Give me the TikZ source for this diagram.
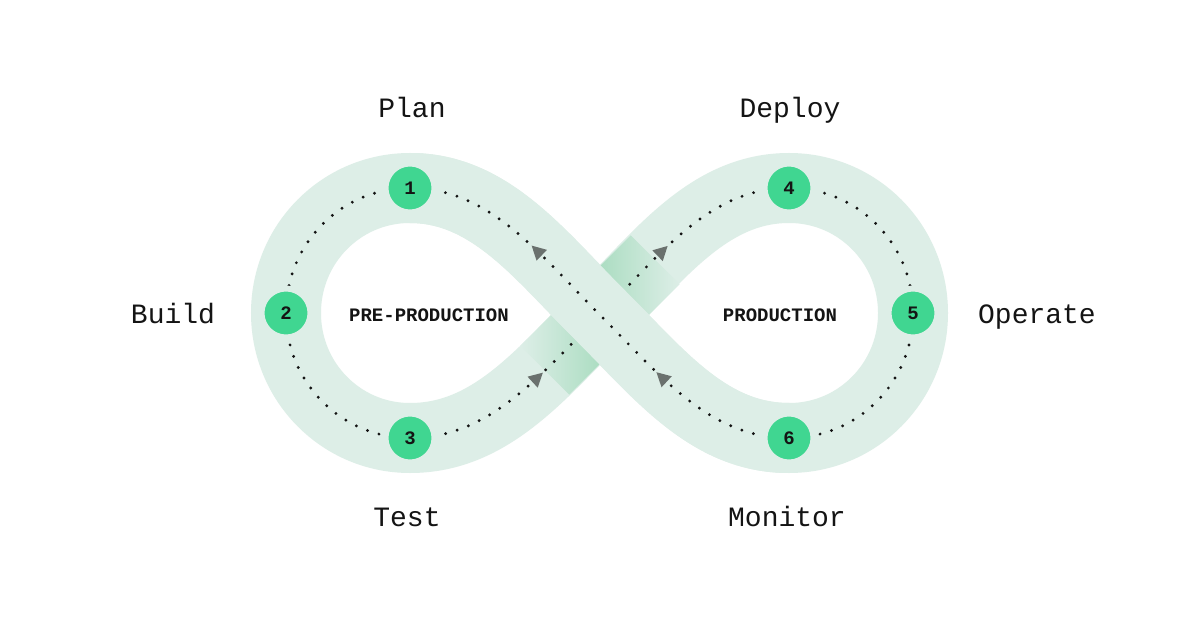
\documentclass[tikz,border=0pt]{standalone}
\usepackage{fontspec}
\setmonofont{Liberation Mono}
\usetikzlibrary{decorations.markings,backgrounds}
\definecolor{band}{RGB}{221,238,231}
\definecolor{shadowg}{RGB}{172,221,194}
\definecolor{nodeg}{RGB}{64,214,145}
\definecolor{arrowg}{RGB}{106,113,110}
\definecolor{ink}{RGB}{20,20,20}
\begin{document}
\begin{tikzpicture}[x=1pt,y=-1pt,
  bandline/.style={draw=band, line width=70pt},
  dotline/.style={draw=ink, line width=3.2pt, line cap=round, dash pattern=on 0pt off 12pt},
  stepnode/.style={circle, fill=nodeg, draw=band, line width=6pt, minimum size=49pt, inner sep=0pt,
    font=\ttfamily\bfseries\fontsize{19}{19}\selectfont, text=ink},
  steplabel/.style={anchor=base, font=\ttfamily\fontsize{28}{28}\selectfont, text=ink},
  zonelabel/.style={anchor=base, font=\ttfamily\bfseries\fontsize{19}{19}\selectfont, text=ink},
  arrowtri/.style={fill=arrowg},
  arrowmarks/.style={postaction={decorate, decoration={markings,
    mark=at position 0.31 with {\fill[arrowtri] (7pt,0pt) -- (-7pt,7.5pt) -- (-7pt,-7.5pt) -- cycle;},
    mark=at position 0.69 with {\fill[arrowtri] (7pt,0pt) -- (-7pt,7.5pt) -- (-7pt,-7.5pt) -- cycle;}}}}
]
\useasboundingbox (0,0) rectangle (1200,628);

% step nodes
\node[stepnode] (n1) at (410,188) {1};
\node[stepnode] (n2) at (286,313) {2};
\node[stepnode] (n3) at (410,438) {3};
\node[stepnode] (n4) at (789,188) {4};
\node[stepnode] (n5) at (913,313) {5};
\node[stepnode] (n6) at (789,438) {6};
\coordinate (X) at (600,315);

% labels
\node[steplabel] (plan) at (412,118) {Plan};
\node[steplabel] (deploy) at (790,118) {Deploy};
\node[steplabel] (build) at (173,324) {Build};
\node[steplabel] (operate) at (1037,324) {Operate};
\node[steplabel] (test) at (407,526) {Test};
\node[steplabel] (monitor) at (787,526) {Monitor};
\node[zonelabel] (pre) at (429,322) {PRE-PRODUCTION};
\node[zonelabel] (prod) at (780,322) {PRODUCTION};

\begin{pgfonlayer}{background}
\fill[white] (0,0) rectangle (1200,628);
% full band
\path[bandline] (n1.center) .. controls (341,188) and (286,244) .. (n2.center)
  .. controls (286,382) and (341,438) .. (n3.center)
  .. controls (490,438) and (540,375) .. (X)
  .. controls (660,255) and (709,188) .. (n4.center)
  .. controls (858,188) and (913,244) .. (n5.center)
  .. controls (913,382) and (858,438) .. (n6.center)
  .. controls (709,438) and (660,375) .. (X)
  .. controls (540,255) and (490,188) .. (n1.center) -- cycle;
% shadow under the crossing
\begin{scope}[shift={(X)}, rotate=45]
  \shade[left color=shadowg, right color=band] (35,-34.5) rectangle (78,34.5);
  \shade[left color=band, right color=shadowg] (-78,-34.5) rectangle (-35,34.5);
\end{scope}
% lower diagonal dots 3 -> 4
\draw[dotline, arrowmarks] (n3.center) .. controls (490,438) and (540,375) .. (X)
  .. controls (660,255) and (709,188) .. (n4.center);
% upper diagonal band 6 -> 1
\draw[bandline] (n6.center) .. controls (709,438) and (660,375) .. (X)
  .. controls (540,255) and (490,188) .. (n1.center);
\draw[dotline, arrowmarks] (n6.center) .. controls (709,438) and (660,375) .. (X)
  .. controls (540,255) and (490,188) .. (n1.center);
% loop dots
\draw[dotline] (n1.center) .. controls (341,188) and (286,244) .. (n2.center)
  .. controls (286,382) and (341,438) .. (n3.center);
\draw[dotline] (n4.center) .. controls (858,188) and (913,244) .. (n5.center)
  .. controls (913,382) and (858,438) .. (n6.center);
\end{pgfonlayer}
\end{tikzpicture}
\end{document}
